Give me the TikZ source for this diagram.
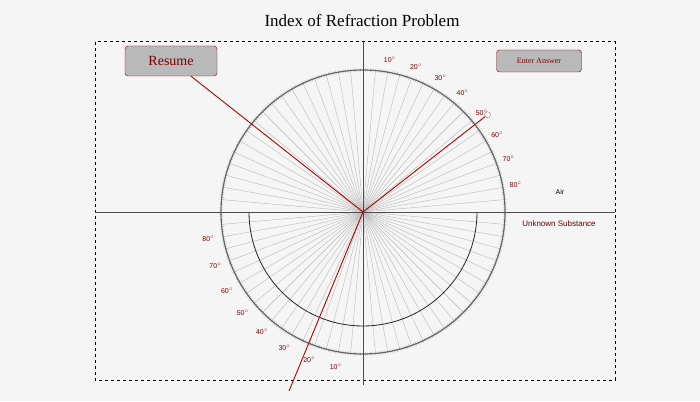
\documentclass[tikz,border=0pt]{standalone}
\usepackage{fontspec}
\usetikzlibrary{calc}
\setsansfont{Liberation Sans}
\setmainfont{Liberation Serif}
\begin{document}
\begin{tikzpicture}[x=1pt,y=1pt,
  lab/.style={font=\sffamily\fontsize{7}{8}\selectfont,text=red!50!black},
  btn/.style={draw=red!50!black,fill=gray!55,rounded corners=3pt,text=red!50!black,font=\rmfamily},
  ray/.style={draw=red!70!black,line width=0.9pt}]
\fill[gray!8] (0,0) rectangle (700,401);
\useasboundingbox (0,0) rectangle (700,401);
\coordinate (O) at (363,189);
\node[font=\rmfamily\fontsize{17}{19}\selectfont] (title) at (362,380) {Index of Refraction Problem};
\draw[dashed,line width=1pt] (95,359) rectangle (615,21);
% grey spokes
\foreach \a in {0,5,...,355} \draw[gray!55,line width=0.4pt] (O) -- ++(\a:142);
% ticks
\foreach \a in {0,1,...,359} \draw[gray!70,line width=0.3pt] (O) ++(\a:140) -- ++(\a:4);
\draw[gray!80!black,line width=1.2pt] (O) circle (142);
\draw[gray!30!black,line width=0.8pt] (249,189) arc (180:360:114);
\draw[gray!60!black,line width=0.9pt] (95,189) -- (615,189);
\draw[gray!60!black,line width=0.9pt] (363,359) -- (363,16);
% labels
\foreach \k in {1,...,8} {
  \node[lab] at ($(O)+({90-\k*10}:155)$) {\k0$^\circ$};
  \node[lab] at ($(O)+({270-\k*10}:157)$) {\k0$^\circ$};
}
\node[btn,minimum width=92pt,minimum height=30pt,font=\rmfamily\fontsize{14}{16}\selectfont] (res) at (171,340) {Resume};
\node[btn,minimum width=85pt,minimum height=22pt,font=\rmfamily\fontsize{8}{9}\selectfont] (ent) at (539,340) {Enter Answer};
\node[font=\sffamily\fontsize{7}{8}\selectfont] (air) at (560,209) {Air};
\node[font=\sffamily\fontsize{8}{9}\selectfont,text=red!40!black] (uns) at (559,177) {Unknown Substance};
\coordinate (P) at ($(O)+(38:158)$);
\coordinate (R) at (289,10);
\draw[ray] (res.south) ++(20,0) -- (O);
\draw[ray] (O) -- (P);
\draw[ray] (O) -- (R);
\draw[gray,fill=white] (P) circle (3);
\end{tikzpicture}
\end{document}
